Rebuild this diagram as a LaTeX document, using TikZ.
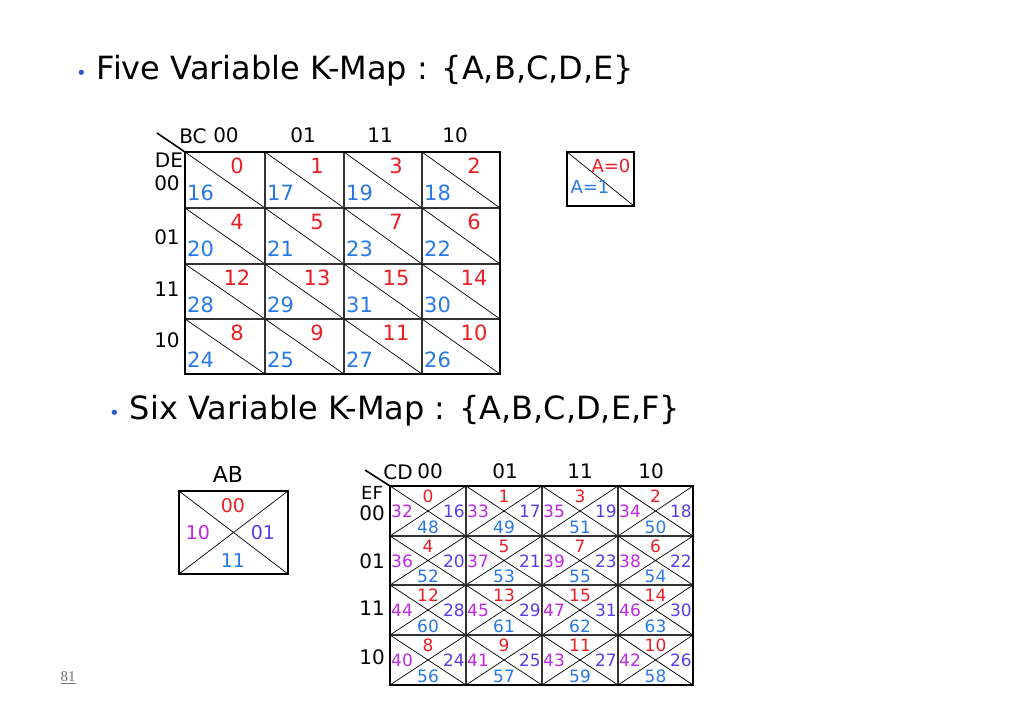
\documentclass[tikz,border=0pt]{standalone}
\usepackage{fontspec}
\setmainfont{DejaVu Sans}
\newfontfamily\pgnum{Liberation Serif}
\definecolor{kred}{RGB}{235,30,35}
\definecolor{kblue}{RGB}{40,120,230}
\definecolor{kmag}{RGB}{190,40,230}
\definecolor{kviol}{RGB}{90,60,230}
\definecolor{bul}{RGB}{40,90,200}
\begin{document}
\begin{tikzpicture}[x=1pt,y=-1pt,
 num/.style={font=\fontsize{21}{21}\selectfont,inner sep=0pt},
 snum/.style={font=\fontsize{17}{17}\selectfont,inner sep=0pt},
 lab/.style={font=\fontsize{20}{20}\selectfont,inner sep=0pt},
 ttl/.style={font=\fontsize{32}{32}\selectfont,inner sep=0pt,anchor=west},
 grid/.style={line width=1.3pt,draw=black!80},
 frame/.style={line width=2.4pt},
 diag/.style={line width=0.7pt}]
\useasboundingbox (0,0) rectangle (1024,709);
\node[ttl] (t1) at (76,71) {\textcolor{bul}{\fontsize{18}{18}\selectfont•} Five Variable K-Map : \{A,B,C,D,E\}};
\node[ttl] (t2) at (109,411) {\textcolor{bul}{\fontsize{18}{18}\selectfont•} Six Variable K-Map : \{A,B,C,D,E,F\}};
% five variable map
\def\cx{{185,265,344,422,500}}
\def\ry{{152,208,264,319,374}}
\foreach \r/\rl [count=\i from 0] in {0/{0,1,3,2},1/{4,5,7,6},2/{12,13,15,14},3/{8,9,11,10}}{
 \foreach \c [count=\j from 0] in \rl {
  \pgfmathsetmacro\xl{\cx[\j]}\pgfmathsetmacro\xr{\cx[\j+1]}
  \pgfmathsetmacro\yt{\ry[\i]}\pgfmathsetmacro\yb{\ry[\i+1]}
  \pgfmathtruncatemacro\bl{\c+16}
  \draw[grid] (\xl,\yt) rectangle (\xr,\yb);
  \draw[diag] (\xl,\yt) -- (\xr,\yb);
  \node[num,text=kred] (r\c) at (\xl+52,\yt+14) {\c};
  \node[num,text=kblue,anchor=west] (b\c) at (\xl+2,\yt+41) {\bl};
 }}
\draw[frame] (185,152) rectangle (500,374);
\draw[line width=1.6pt] (157,133) coordinate (k1) -- (185,152);
\node[lab] (bc) at (193,136) {BC};
\foreach \t/\x in {00/226,01/303,11/380,10/455}{\node[lab] (c5\t) at (\x,135) {\t};}
\node[lab] (de) at (169,160) {DE};
\foreach \t/\y in {00/183,01/237,11/289,10/340}{\node[lab] (r5\t) at (167,\y) {\t};}
% legend
\draw[line width=1.3pt] (567,152) rectangle (634,206);
\draw[diag] (567,152) -- (634,206);
\node[num,font=\fontsize{18}{18}\selectfont,text=kred] (a0) at (611,166) {A=0};
\node[num,font=\fontsize{18}{18}\selectfont,text=kblue] (a1) at (590,187) {A=1};
% AB box
\node[lab,font=\fontsize{22}{22}\selectfont] (ab) at (228,474) {AB};
\draw[line width=2pt] (179,491) rectangle (288,574);
\draw[diag] (179,491) -- (288,574) (288,491) -- (179,574);
\node[num,font=\fontsize{19}{19}\selectfont,text=kred] (q0) at (233,506) {00};
\node[num,font=\fontsize{19}{19}\selectfont,text=kmag] (q2) at (198,533) {10};
\node[num,font=\fontsize{19}{19}\selectfont,text=kviol] (q1) at (263,533) {01};
\node[num,font=\fontsize{19}{19}\selectfont,text=kblue] (q3) at (233,561) {11};
% six variable
\def\sx{{390,466,542,618,693}}
\def\sy{{486,536,585,635,685}}
\foreach \rl/\bt [count=\i from 0] in {{0,1,3,2}/{48,49,51,50},{4,5,7,6}/{52,53,55,54},{12,13,15,14}/{60,61,62,63},{8,9,11,10}/{56,57,59,58}}{
 \foreach \c [count=\j from 0] in \rl {
  \pgfmathsetmacro\xl{\sx[\j]}\pgfmathsetmacro\xr{\sx[\j+1]}
  \pgfmathsetmacro\yt{\sy[\i]}\pgfmathsetmacro\yb{\sy[\i+1]}
  \pgfmathtruncatemacro\nl{\c+32}\pgfmathtruncatemacro\nr{\c+16}
  \pgfmathtruncatemacro\nb{{\bt}[\j]}
  \draw[grid] (\xl,\yt) rectangle (\xr,\yb);
  \draw[diag] (\xl,\yt) -- (\xr,\yb) (\xr,\yt) -- (\xl,\yb);
  \node[snum,text=kred] (s\c) at ({(\xl+\xr)/2},\yt+10) {\c};
  \node[snum,text=kmag,anchor=west] (sl\c) at (\xl+1,\yt+25) {\nl};
  \node[snum,text=kviol,anchor=east] (sr\c) at (\xr-1,\yt+25) {\nr};
  \node[snum,text=kblue] (sb\c) at ({(\xl+\xr)/2},\yb-9) {\nb};
 }}
\draw[frame] (390,486) rectangle (693,685);
\draw[line width=1.6pt] (365,470) coordinate (k2) -- (390,486);
\node[lab] (cd) at (398,472) {CD};
\foreach \t/\x in {00/430,01/505,11/580,10/651}{\node[lab] (c6\t) at (\x,471) {\t};}
\node[lab,font=\fontsize{18}{18}\selectfont] (ef) at (372,493) {EF};
\foreach \t/\y in {00/513,01/561,11/608,10/657}{\node[lab] (r6\t) at (372,\y) {\t};}
\node[font=\pgnum\fontsize{15}{15}\selectfont,text=black!55,inner sep=0pt] (pg) at (68,678) {\underline{81}};
\end{tikzpicture}
\end{document}
